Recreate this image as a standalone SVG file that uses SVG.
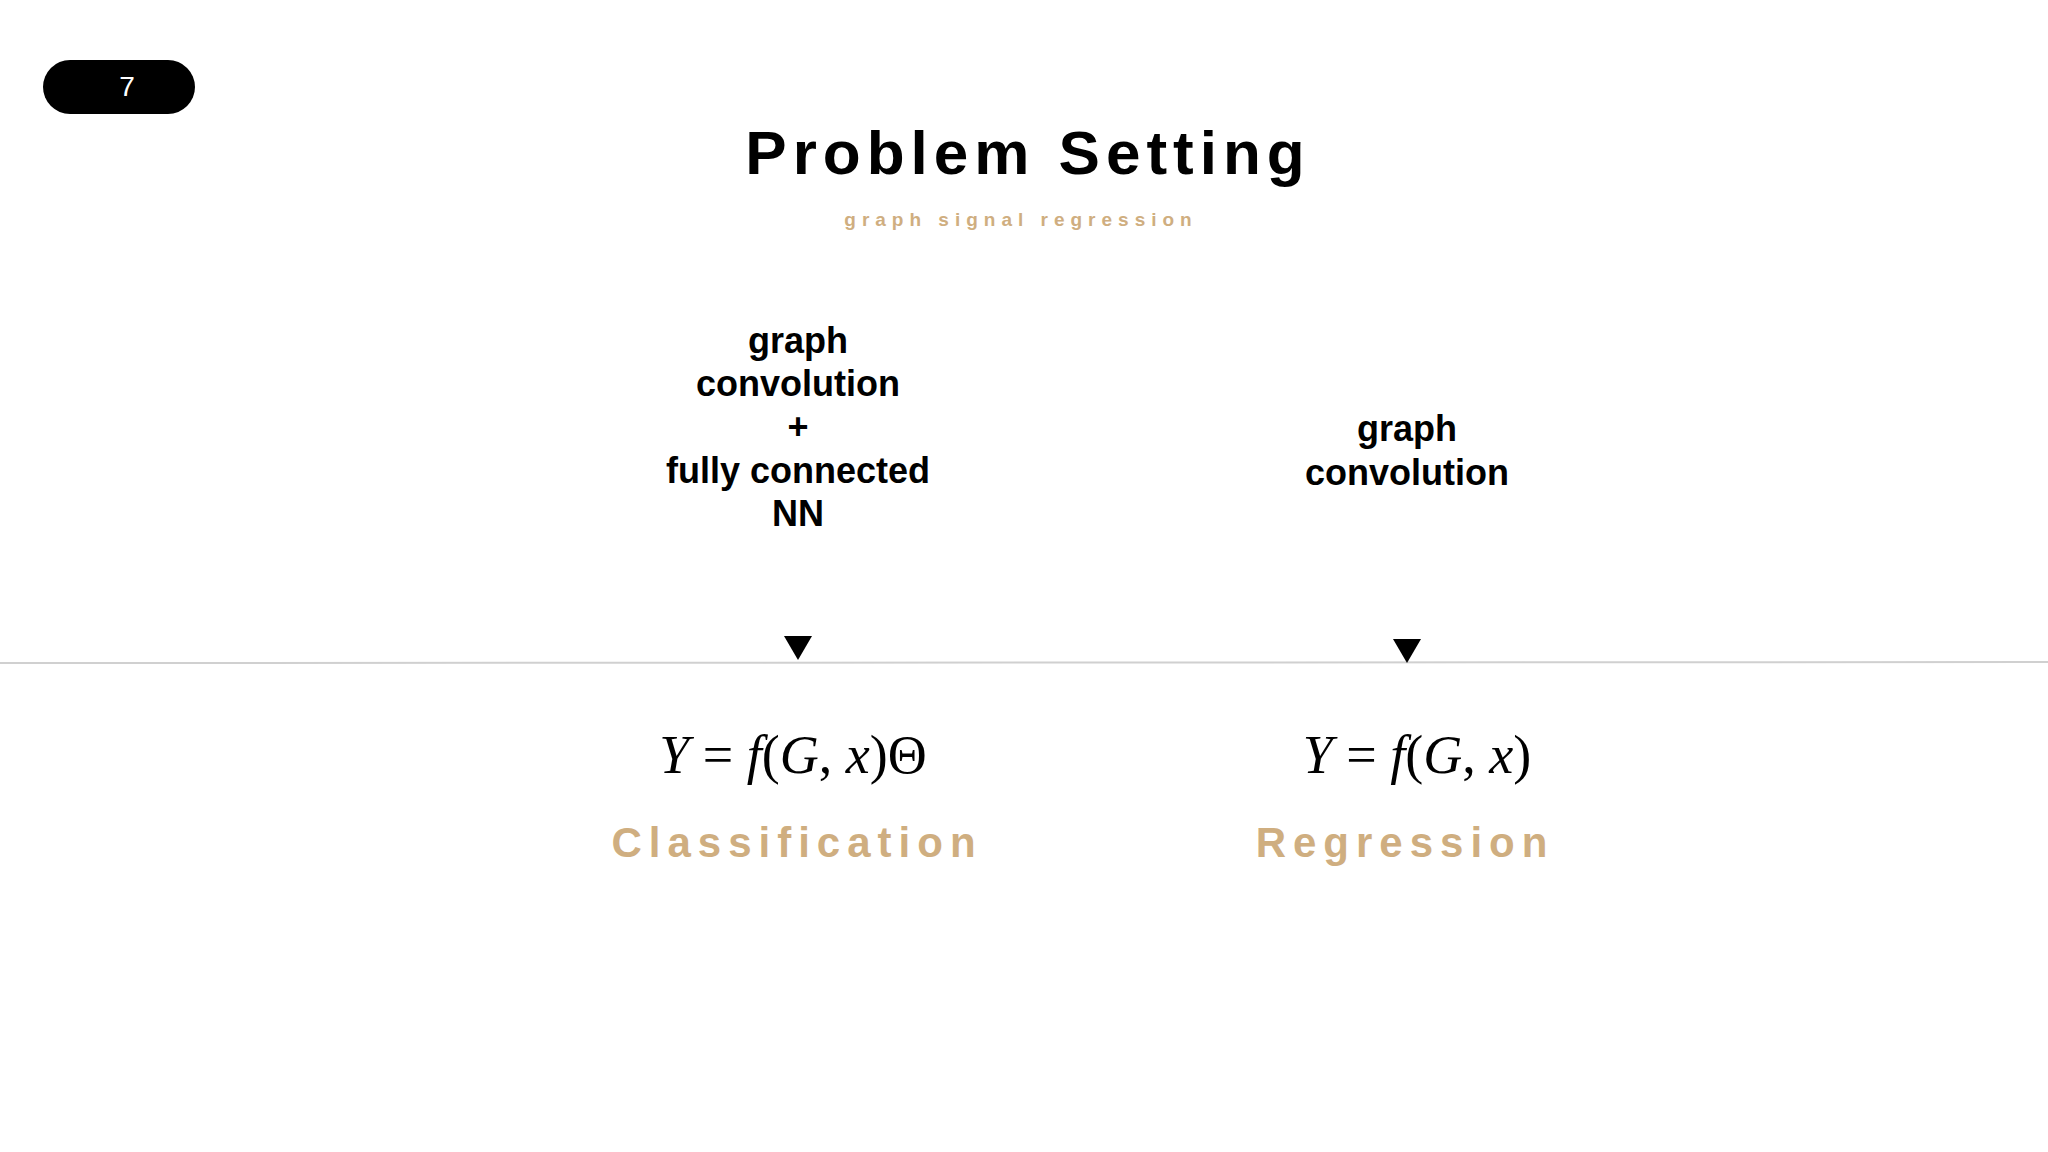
<svg xmlns="http://www.w3.org/2000/svg" width="2048" height="1152" viewBox="0 0 2048 1152">
<style>
.lbl{font-family:"Liberation Sans",Arial,sans-serif;font-weight:bold;font-size:36px;fill:#000;text-anchor:middle}
.math{font-family:"Liberation Serif","Times New Roman",serif;font-size:54px;fill:#000;text-anchor:middle}
.i{font-style:italic}
.cat{font-family:"Liberation Sans",Arial,sans-serif;font-weight:bold;font-size:42px;fill:#cfae80;text-anchor:middle;letter-spacing:7px}
</style>
<rect width="2048" height="1152" fill="#fff"/>
<g id="page">
<rect x="43" y="60" width="152" height="54" rx="27" fill="#000"/>
<text x="127" y="96" font-family="Liberation Sans,Arial,sans-serif" font-size="28" fill="#fff" text-anchor="middle">7</text>
</g>
<g id="title">
<text x="1028" y="174" font-family="Liberation Sans,Arial,sans-serif" font-weight="bold" font-size="62" letter-spacing="6" text-anchor="middle">Problem Setting</text>
<text x="1021" y="226" font-family="Liberation Sans,Arial,sans-serif" font-weight="bold" font-size="19" letter-spacing="6" fill="#cfae80" text-anchor="middle">graph signal regression</text>
</g>
<g id="connectors">
<line x1="0" y1="663" x2="2048" y2="662" stroke="#d0d0d0" stroke-width="2"/>
<polygon points="784,636 812,636 798,660" fill="#000"/>
<polygon points="1393,639 1421,639 1407,663" fill="#000"/>
</g>
<g id="left">
<text class="lbl" x="798" y="353">graph</text>
<text class="lbl" x="798" y="396">convolution</text>
<text class="lbl" x="798" y="439">+</text>
<text class="lbl" x="798" y="483">fully connected</text>
<text class="lbl" x="798" y="526">NN</text>
<text class="math" x="793" y="773"><tspan class="i">Y</tspan> = <tspan class="i">f</tspan>(<tspan class="i">G</tspan>, <tspan class="i">x</tspan>)Θ</text>
<text class="cat" x="797" y="857">Classification</text>
</g>
<g id="right">
<text class="lbl" x="1407" y="441">graph</text>
<text class="lbl" x="1407" y="485">convolution</text>
<text class="math" x="1417" y="773"><tspan class="i">Y</tspan> = <tspan class="i">f</tspan>(<tspan class="i">G</tspan>, <tspan class="i">x</tspan>)</text>
<text class="cat" x="1405" y="857">Regression</text>
</g>
</svg>
